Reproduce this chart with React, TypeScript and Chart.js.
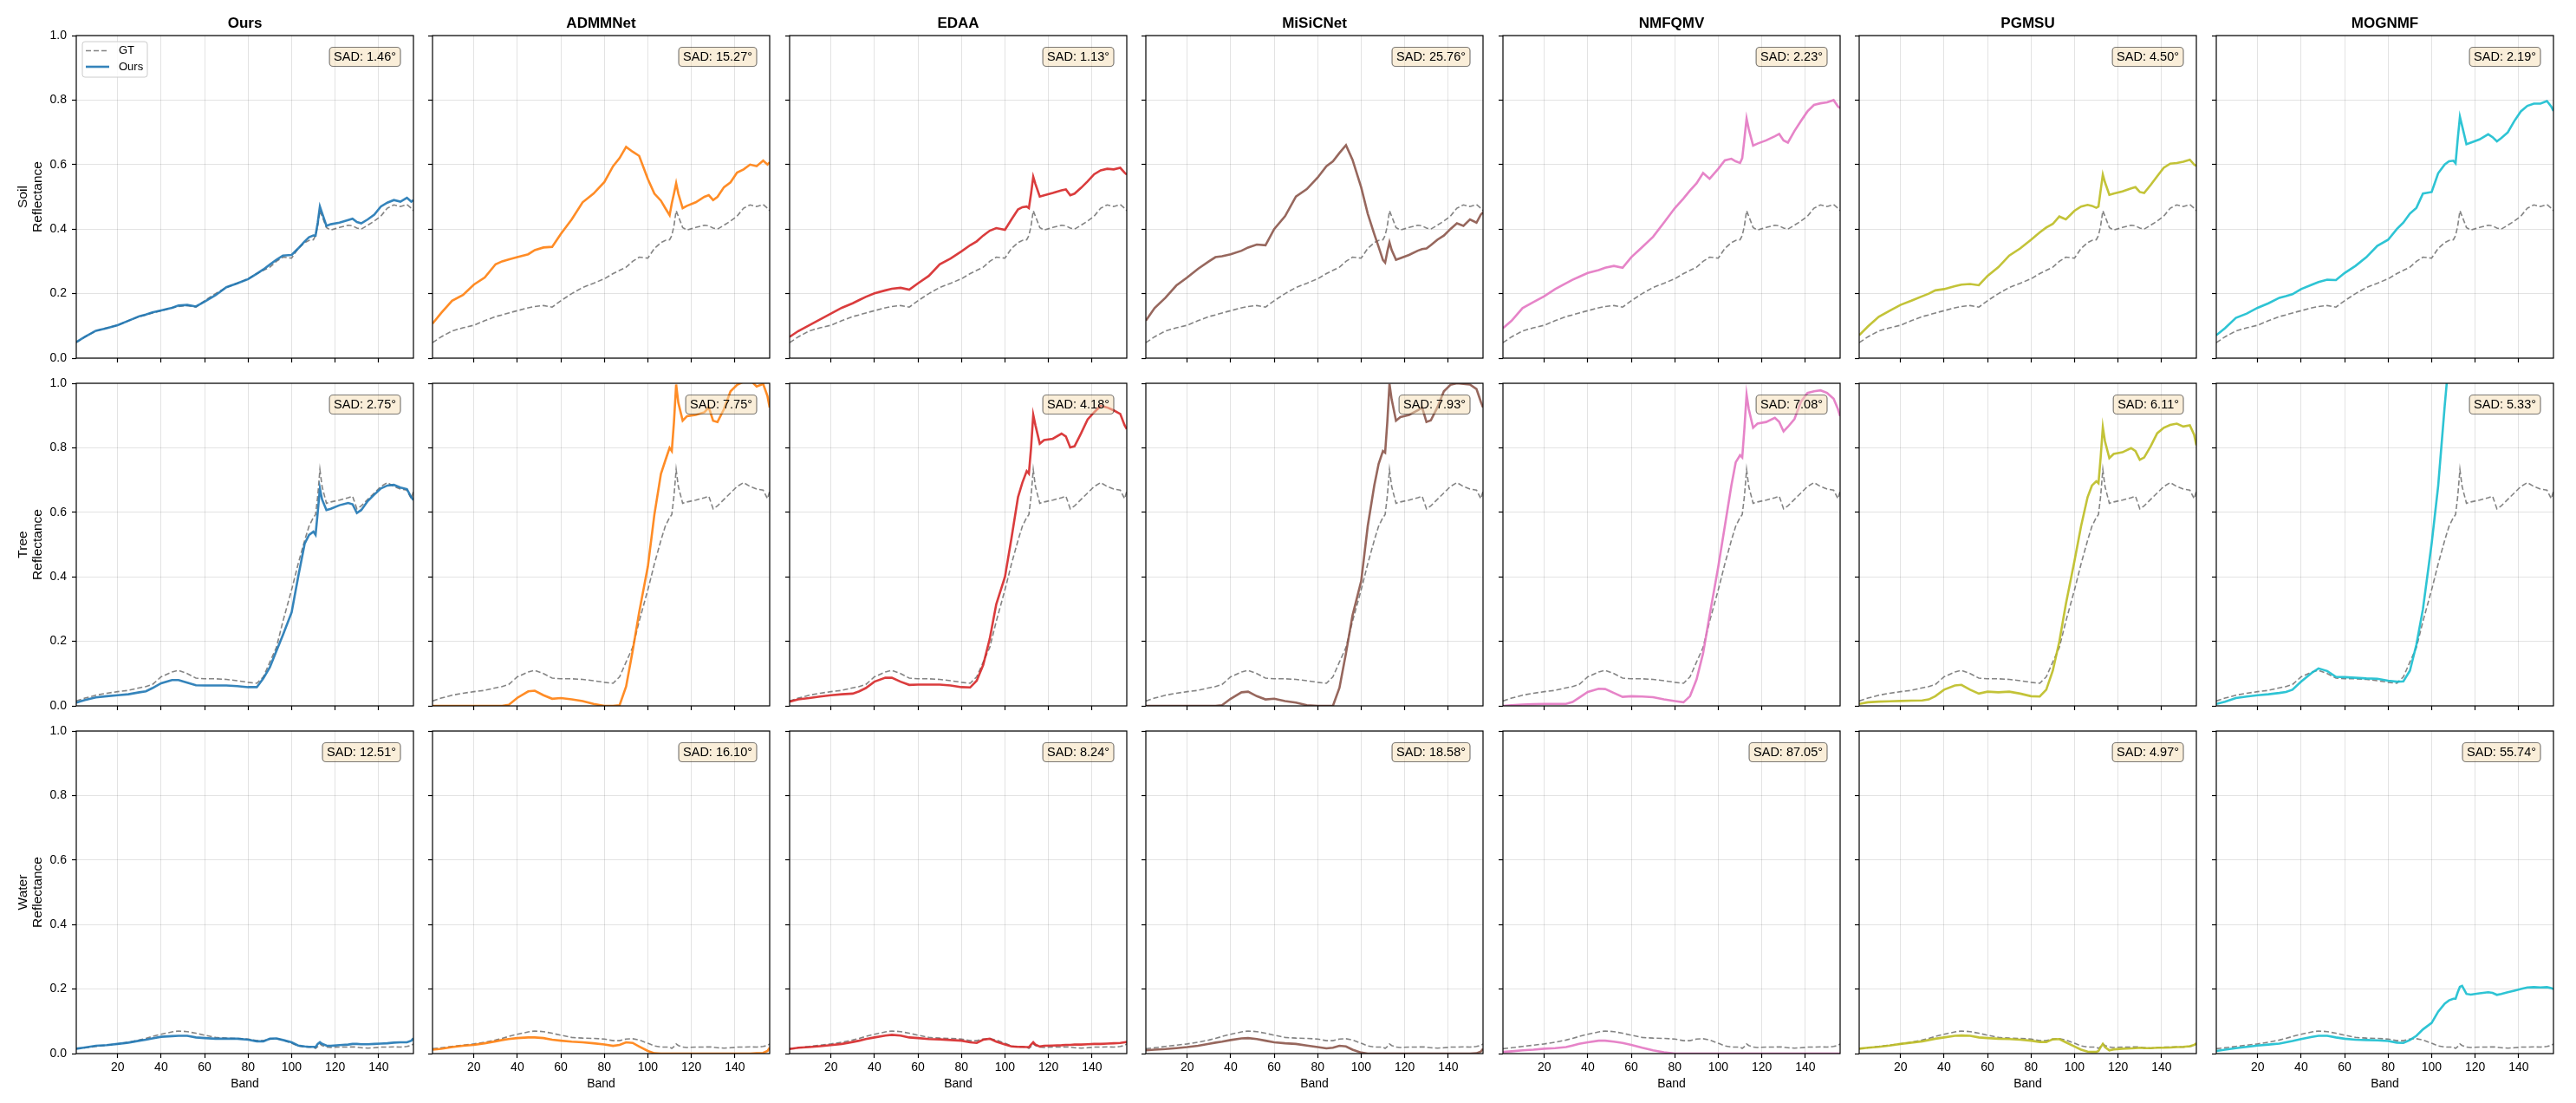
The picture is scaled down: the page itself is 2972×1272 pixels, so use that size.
import React, { useEffect, useRef } from "react";
import { Chart, registerables } from "chart.js";

Chart.register(...registerables);

// ---- data ---------------------------------------------------------------
const BANDS = [
  1, 5, 10, 15, 20, 25, 30, 33, 36, 40,
  45, 48, 52, 56, 60, 65, 70, 75, 80, 84,
  87, 90, 93, 96, 100, 103, 106, 108, 110, 111,
  112, 113, 114, 116, 118, 122, 126, 128, 130, 132,
  135, 138, 141, 144, 147, 150, 153, 155, 156,
];

const METHODS = ["Ours", "ADMMNet", "EDAA", "MiSiCNet", "NMFQMV", "PGMSU", "MOGNMF"];
const ENDMEMBERS = ["Soil", "Tree", "Water"];
const X_TICKS = [20, 40, 60, 80, 100, 120, 140];
const Y_TICKS = [0, 0.2, 0.4, 0.6, 0.8, 1.0];

const SAD_SOIL = ["1.46", "15.27", "1.13", "25.76", "2.23", "4.50", "2.19"];
const SAD_TREE = ["2.75", "7.75", "4.18", "7.93", "7.08", "6.11", "5.33"];
const SAD_WATER = ["12.51", "16.10", "8.24", "18.58", "87.05", "4.97", "55.74"];

// Soil
const GT_SOIL = [
  0.048, 0.066, 0.084, 0.094, 0.102, 0.116, 0.129, 0.134, 0.140, 0.147,
  0.156, 0.160, 0.163, 0.158, 0.178, 0.200, 0.219, 0.232, 0.246, 0.262,
  0.272, 0.282, 0.300, 0.313, 0.310, 0.340, 0.358, 0.365, 0.367, 0.380,
  0.410, 0.457, 0.440, 0.405, 0.397, 0.405, 0.412, 0.410, 0.403, 0.400,
  0.412, 0.425, 0.440, 0.465, 0.475, 0.470, 0.476, 0.465, 0.457,
];
const OURS_SOIL = [
  0.050, 0.066, 0.085, 0.093, 0.102, 0.116, 0.130, 0.135, 0.142, 0.148,
  0.156, 0.163, 0.165, 0.160, 0.175, 0.195, 0.220, 0.232, 0.245, 0.262,
  0.275, 0.290, 0.305, 0.318, 0.320, 0.340, 0.362, 0.375, 0.380, 0.380,
  0.420, 0.470, 0.450, 0.410, 0.415, 0.420, 0.428, 0.432, 0.422, 0.418,
  0.430, 0.445, 0.470, 0.482, 0.490, 0.485, 0.497, 0.485, 0.490,
];
const ADMMNET_SOIL = [
  0.107, 0.140, 0.178, 0.196, 0.228, 0.250, 0.291, 0.300, 0.306, 0.313,
  0.322, 0.335, 0.343, 0.345, 0.385, 0.430, 0.483, 0.510, 0.546, 0.595,
  0.620, 0.655, 0.640, 0.627, 0.555, 0.510, 0.488, 0.465, 0.443, 0.480,
  0.510, 0.542, 0.510, 0.465, 0.472, 0.483, 0.500, 0.505, 0.490, 0.500,
  0.530, 0.545, 0.575, 0.585, 0.600, 0.595, 0.612, 0.600, 0.607,
];
const EDAA_SOIL = [
  0.066, 0.084, 0.102, 0.120, 0.138, 0.156, 0.170, 0.180, 0.190, 0.201,
  0.210, 0.215, 0.218, 0.212, 0.232, 0.255, 0.291, 0.309, 0.331, 0.350,
  0.362, 0.380, 0.395, 0.403, 0.398, 0.430, 0.461, 0.468, 0.470, 0.465,
  0.510, 0.562, 0.540, 0.501, 0.505, 0.512, 0.520, 0.523, 0.505, 0.510,
  0.528, 0.548, 0.570, 0.582, 0.587, 0.585, 0.590, 0.575, 0.569,
];
const MISICNET_SOIL = [
  0.116, 0.155, 0.187, 0.225, 0.250, 0.277, 0.300, 0.313, 0.316, 0.322,
  0.333, 0.343, 0.352, 0.350, 0.400, 0.440, 0.501, 0.524, 0.560, 0.595,
  0.610, 0.636, 0.660, 0.615, 0.529, 0.448, 0.385, 0.345, 0.304, 0.296,
  0.330, 0.359, 0.335, 0.305, 0.310, 0.320, 0.333, 0.338, 0.340, 0.350,
  0.367, 0.380, 0.400, 0.418, 0.410, 0.430, 0.420, 0.445, 0.452,
];
const NMFQMV_SOIL = [
  0.093, 0.116, 0.155, 0.174, 0.192, 0.214, 0.232, 0.243, 0.252, 0.264,
  0.273, 0.280, 0.286, 0.280, 0.313, 0.344, 0.376, 0.420, 0.465, 0.495,
  0.520, 0.542, 0.574, 0.556, 0.587, 0.613, 0.618, 0.610, 0.605, 0.620,
  0.680, 0.743, 0.710, 0.659, 0.665, 0.675, 0.688, 0.695, 0.675, 0.668,
  0.704, 0.735, 0.765, 0.785, 0.790, 0.793, 0.800, 0.780, 0.775,
];
const PGMSU_SOIL = [
  0.071, 0.098, 0.128, 0.147, 0.165, 0.178, 0.192, 0.200, 0.210, 0.214,
  0.223, 0.228, 0.230, 0.226, 0.255, 0.282, 0.318, 0.340, 0.367, 0.390,
  0.405, 0.416, 0.439, 0.430, 0.457, 0.470, 0.475, 0.472, 0.466, 0.470,
  0.520, 0.569, 0.545, 0.506, 0.510, 0.517, 0.526, 0.530, 0.515, 0.512,
  0.537, 0.564, 0.590, 0.603, 0.605, 0.609, 0.615, 0.600, 0.596,
];
const MOGNMF_SOIL = [
  0.071, 0.093, 0.125, 0.138, 0.156, 0.170, 0.187, 0.192, 0.198, 0.214,
  0.228, 0.236, 0.243, 0.242, 0.264, 0.286, 0.313, 0.348, 0.367, 0.400,
  0.420, 0.448, 0.466, 0.510, 0.515, 0.573, 0.600, 0.610, 0.612, 0.604,
  0.680, 0.748, 0.720, 0.663, 0.668, 0.678, 0.694, 0.685, 0.672, 0.682,
  0.700, 0.735, 0.765, 0.782, 0.789, 0.789, 0.797, 0.780, 0.766,
];

// Tree
const GT_TREE = [
  0.015, 0.024, 0.033, 0.039, 0.044, 0.048, 0.056, 0.060, 0.066, 0.090,
  0.105, 0.110, 0.100, 0.086, 0.084, 0.084, 0.082, 0.078, 0.073, 0.070,
  0.090, 0.136, 0.181, 0.262, 0.360, 0.440, 0.513, 0.557, 0.584, 0.593,
  0.650, 0.732, 0.680, 0.628, 0.632, 0.638, 0.645, 0.650, 0.611, 0.620,
  0.640, 0.660, 0.680, 0.692, 0.680, 0.672, 0.669, 0.642, 0.665,
];
const OURS_TREE = [
  0.010, 0.018, 0.026, 0.030, 0.033, 0.036, 0.042, 0.045, 0.055, 0.070,
  0.080, 0.080, 0.072, 0.064, 0.063, 0.063, 0.063, 0.061, 0.058, 0.058,
  0.085, 0.120, 0.170, 0.220, 0.290, 0.400, 0.503, 0.530, 0.540, 0.530,
  0.600, 0.674, 0.640, 0.607, 0.611, 0.622, 0.629, 0.625, 0.598, 0.607,
  0.635, 0.655, 0.674, 0.683, 0.685, 0.677, 0.672, 0.647, 0.638,
];
const ADMMNET_TREE = [
  0, 0, 0, 0, 0, 0, 0, 0, 0.003, 0.025,
  0.045, 0.047, 0.033, 0.022, 0.024, 0.020, 0.015, 0.006, 0, 0,
  0.002, 0.060, 0.170, 0.290, 0.432, 0.593, 0.719, 0.760, 0.800, 0.790,
  0.880, 0.996, 0.940, 0.884, 0.898, 0.902, 0.910, 0.925, 0.884, 0.880,
  0.920, 0.975, 0.995, 1.005, 1.010, 0.990, 0.998, 0.960, 0.925,
];
const EDAA_TREE = [
  0.013, 0.020, 0.024, 0.029, 0.033, 0.036, 0.038, 0.045, 0.055, 0.075,
  0.087, 0.087, 0.075, 0.065, 0.066, 0.066, 0.066, 0.063, 0.058, 0.057,
  0.078, 0.127, 0.208, 0.315, 0.400, 0.520, 0.647, 0.692, 0.728, 0.720,
  0.800, 0.902, 0.870, 0.813, 0.824, 0.828, 0.844, 0.835, 0.801, 0.805,
  0.845, 0.888, 0.910, 0.930, 0.925, 0.916, 0.905, 0.870, 0.858,
];
const MISICNET_TREE = [
  0, 0, 0, 0, 0, 0, 0, 0, 0.002, 0.022,
  0.042, 0.044, 0.030, 0.020, 0.022, 0.015, 0.010, 0.002, 0, 0,
  0, 0.056, 0.163, 0.280, 0.387, 0.557, 0.683, 0.750, 0.790, 0.785,
  0.880, 0.998, 0.950, 0.884, 0.895, 0.902, 0.916, 0.925, 0.880, 0.885,
  0.925, 0.975, 0.995, 1.000, 0.998, 0.996, 0.982, 0.943, 0.925,
];
const NMFQMV_TREE = [
  0, 0.002, 0.004, 0.005, 0.006, 0.006, 0.006, 0.012, 0.025, 0.043,
  0.053, 0.052, 0.040, 0.028, 0.030, 0.029, 0.027, 0.020, 0.015, 0.011,
  0.030, 0.082, 0.163, 0.280, 0.432, 0.557, 0.683, 0.755, 0.777, 0.770,
  0.860, 0.965, 0.920, 0.862, 0.875, 0.880, 0.893, 0.880, 0.851, 0.865,
  0.889, 0.943, 0.970, 0.975, 0.978, 0.970, 0.952, 0.920, 0.898,
];
const PGMSU_TREE = [
  0.006, 0.011, 0.013, 0.014, 0.015, 0.016, 0.017, 0.020, 0.030, 0.050,
  0.063, 0.065, 0.050, 0.038, 0.044, 0.042, 0.044, 0.038, 0.030, 0.029,
  0.050, 0.109, 0.199, 0.315, 0.450, 0.557, 0.647, 0.683, 0.696, 0.690,
  0.770, 0.864, 0.820, 0.768, 0.781, 0.786, 0.799, 0.790, 0.763, 0.770,
  0.805, 0.845, 0.862, 0.871, 0.875, 0.866, 0.870, 0.840, 0.808,
];
const MOGNMF_TREE = [
  0.006, 0.013, 0.024, 0.029, 0.033, 0.036, 0.040, 0.043, 0.050, 0.075,
  0.103, 0.116, 0.108, 0.090, 0.089, 0.087, 0.085, 0.084, 0.078, 0.075,
  0.076, 0.109, 0.190, 0.300, 0.503, 0.682, 0.930, 1.080, 1.200, 1.250,
  1.350, 1.450, 1.420, 1.380, 1.400, 1.420, 1.440, 1.450, 1.420, 1.430,
  1.460, 1.500, 1.530, 1.540, 1.550, 1.540, 1.550, 1.500, 1.480,
];

// Water
const GT_WATER = [
  0.015, 0.018, 0.022, 0.026, 0.030, 0.035, 0.042, 0.047, 0.053, 0.060,
  0.067, 0.070, 0.068, 0.063, 0.057, 0.050, 0.048, 0.047, 0.045, 0.040,
  0.040, 0.045, 0.046, 0.042, 0.032, 0.024, 0.020, 0.020, 0.020, 0.016,
  0.022, 0.030, 0.025, 0.020, 0.019, 0.020, 0.020, 0.021, 0.020, 0.018,
  0.017, 0.018, 0.020, 0.020, 0.021, 0.020, 0.022, 0.025, 0.030,
];
const OURS_WATER = [
  0.015, 0.019, 0.024, 0.026, 0.030, 0.034, 0.040, 0.043, 0.047, 0.052,
  0.054, 0.055, 0.055, 0.050, 0.048, 0.046, 0.046, 0.046, 0.043, 0.038,
  0.038, 0.046, 0.047, 0.042, 0.035, 0.025, 0.022, 0.021, 0.021, 0.020,
  0.030, 0.035, 0.030, 0.025, 0.024, 0.026, 0.028, 0.030, 0.030, 0.029,
  0.029, 0.030, 0.031, 0.032, 0.034, 0.035, 0.035, 0.040, 0.047,
];
const ADMMNET_WATER = [
  0.012, 0.015, 0.020, 0.024, 0.027, 0.032, 0.038, 0.042, 0.045, 0.048,
  0.050, 0.050, 0.048, 0.043, 0.040, 0.037, 0.035, 0.032, 0.028, 0.024,
  0.027, 0.035, 0.033, 0.022, 0.008, 0.001, 0, 0, 0, 0,
  0, 0, 0, 0, 0, 0, 0, 0, 0, 0,
  0, 0, 0, 0, 0, 0.001, 0.002, 0.008, 0.018,
];
const EDAA_WATER = [
  0.014, 0.018, 0.020, 0.023, 0.026, 0.030, 0.036, 0.040, 0.045, 0.050,
  0.056, 0.058, 0.056, 0.050, 0.048, 0.045, 0.044, 0.042, 0.040, 0.035,
  0.033, 0.043, 0.046, 0.037, 0.028, 0.022, 0.021, 0.021, 0.020, 0.020,
  0.028, 0.035, 0.028, 0.022, 0.024, 0.025, 0.026, 0.027, 0.027, 0.028,
  0.028, 0.029, 0.030, 0.030, 0.031, 0.032, 0.033, 0.035, 0.036,
];
const MISICNET_WATER = [
  0.010, 0.012, 0.014, 0.017, 0.020, 0.024, 0.030, 0.034, 0.037, 0.042,
  0.047, 0.048, 0.045, 0.040, 0.035, 0.032, 0.030, 0.025, 0.020, 0.016,
  0.018, 0.024, 0.022, 0.012, 0.003, 0, 0, 0, 0, 0,
  0, 0, 0, 0, 0, 0, 0, 0, 0, 0,
  0, 0, 0, 0, 0, 0, 0.001, 0.006, 0.015,
];
const NMFQMV_WATER = [
  0.005, 0.007, 0.010, 0.012, 0.015, 0.017, 0.020, 0.025, 0.030, 0.035,
  0.040, 0.040, 0.037, 0.033, 0.027, 0.018, 0.010, 0.004, 0, 0,
  0, 0, 0, 0, 0, 0, 0, 0, 0, 0,
  0, 0, 0, 0, 0, 0, 0, 0, 0, 0,
  0, 0, 0, 0, 0, 0, 0, 0, 0,
];
const PGMSU_WATER = [
  0.015, 0.018, 0.021, 0.025, 0.030, 0.034, 0.038, 0.042, 0.046, 0.050,
  0.055, 0.056, 0.055, 0.050, 0.048, 0.046, 0.045, 0.043, 0.040, 0.036,
  0.036, 0.044, 0.045, 0.035, 0.022, 0.012, 0.006, 0.005, 0.005, 0.008,
  0.020, 0.030, 0.020, 0.010, 0.013, 0.015, 0.016, 0.017, 0.018, 0.017,
  0.017, 0.018, 0.018, 0.019, 0.020, 0.021, 0.023, 0.027, 0.032,
];
const MOGNMF_WATER = [
  0.008, 0.012, 0.017, 0.021, 0.025, 0.028, 0.031, 0.035, 0.039, 0.045,
  0.052, 0.055, 0.055, 0.050, 0.046, 0.043, 0.042, 0.041, 0.039, 0.034,
  0.033, 0.042, 0.055, 0.075, 0.095, 0.130, 0.155, 0.165, 0.170, 0.170,
  0.190, 0.207, 0.210, 0.185, 0.183, 0.187, 0.190, 0.188, 0.182, 0.185,
  0.190, 0.195, 0.200, 0.205, 0.206, 0.205, 0.206, 0.203, 0.200,
];

const GT_BY_ROW = [GT_SOIL, GT_TREE, GT_WATER];
const EST_BY_ROW = [
  [OURS_SOIL, ADMMNET_SOIL, EDAA_SOIL, MISICNET_SOIL, NMFQMV_SOIL, PGMSU_SOIL, MOGNMF_SOIL],
  [OURS_TREE, ADMMNET_TREE, EDAA_TREE, MISICNET_TREE, NMFQMV_TREE, PGMSU_TREE, MOGNMF_TREE],
  [OURS_WATER, ADMMNET_WATER, EDAA_WATER, MISICNET_WATER, NMFQMV_WATER, PGMSU_WATER, MOGNMF_WATER],
];
const SAD_BY_ROW = [SAD_SOIL, SAD_TREE, SAD_WATER];

// ---- styling & layout ---------------------------------------------------
const COLORS = [
  "rgba(31,119,180,0.9)",
  "rgba(255,127,14,0.9)",
  "rgba(214,39,40,0.9)",
  "rgba(140,86,75,0.9)",
  "rgba(227,119,194,0.9)",
  "rgba(188,189,34,0.9)",
  "rgba(23,190,207,0.9)",
];
const GT_COLOR = "rgba(110,110,110,0.85)";
const FONT = '"Liberation Sans", Arial, Helvetica, sans-serif';

const PANEL_LEFT = [88, 499, 911, 1322, 1734, 2145, 2557];
const PANEL_TOP = [41, 442, 843];
const PANEL_W = 389;
const PANEL_H = 372;
const PAD_L = 88;
const PAD_T = 41;
const PAD_R = 12;
const PAD_B = 57;

function toPoints(values: number[]) {
  return BANDS.map((b, i) => ({ x: b, y: values[i] }));
}

function makeDecor(row: number, col: number) {
  return {
    id: "panelDecor",
    afterDraw(chart: any) {
      const { ctx, chartArea: a } = chart;
      ctx.save();

      // axes frame
      ctx.strokeStyle = "#000";
      ctx.lineWidth = 1.2;
      ctx.strokeRect(a.left, a.top, a.right - a.left, a.bottom - a.top);

      // SAD annotation box
      ctx.font = `14.5px ${FONT}`;
      const text = `SAD: ${SAD_BY_ROW[row][col]}°`;
      const tw = ctx.measureText(text).width;
      const bw = tw + 10;
      const bh = 22;
      const bx = a.right - 15 - bw;
      const by = a.top + 13.5;
      ctx.beginPath();
      ctx.roundRect(bx, by, bw, bh, 4);
      ctx.fillStyle = "rgba(245,222,179,0.5)";
      ctx.fill();
      ctx.strokeStyle = "rgba(0,0,0,0.5)";
      ctx.lineWidth = 1.2;
      ctx.stroke();
      ctx.fillStyle = "#000";
      ctx.textAlign = "right";
      ctx.textBaseline = "middle";
      ctx.fillText(text, bx + bw - 5, by + bh / 2 + 0.5);

      const cx = (a.left + a.right) / 2;
      const cy = (a.top + a.bottom) / 2;

      // column title
      if (row === 0) {
        ctx.font = `bold 17px ${FONT}`;
        ctx.textAlign = "center";
        ctx.textBaseline = "alphabetic";
        ctx.fillText(METHODS[col], cx, a.top - 9);
      }

      // row label
      if (col === 0) {
        ctx.font = `15.5px ${FONT}`;
        ctx.textAlign = "center";
        ctx.textBaseline = "middle";
        const lines = [ENDMEMBERS[row], "Reflectance"];
        const xs = [a.left - 61, a.left - 44.5];
        lines.forEach((ln, i) => {
          ctx.save();
          ctx.translate(xs[i], cy);
          ctx.rotate(-Math.PI / 2);
          ctx.fillText(ln, 0, 0);
          ctx.restore();
        });
      }

      // x-axis label
      if (row === 2) {
        ctx.font = `14px ${FONT}`;
        ctx.textAlign = "center";
        ctx.textBaseline = "middle";
        ctx.fillText("Band", cx, a.bottom + 35);
      }

      // legend
      if (row === 0 && col === 0) {
        const lx = a.left + 7;
        const ly = a.top + 7;
        ctx.beginPath();
        ctx.roundRect(lx, ly, 75, 41, 3);
        ctx.fillStyle = "rgba(255,255,255,0.8)";
        ctx.fill();
        ctx.strokeStyle = "#cccccc";
        ctx.lineWidth = 1;
        ctx.stroke();

        ctx.lineWidth = 1.6;
        ctx.strokeStyle = GT_COLOR;
        ctx.setLineDash([6, 3]);
        ctx.beginPath();
        ctx.moveTo(lx + 4, ly + 10.5);
        ctx.lineTo(lx + 31, ly + 10.5);
        ctx.stroke();
        ctx.setLineDash([]);
        ctx.lineWidth = 2.6;
        ctx.strokeStyle = COLORS[0];
        ctx.beginPath();
        ctx.moveTo(lx + 4, ly + 29);
        ctx.lineTo(lx + 31, ly + 29);
        ctx.stroke();

        ctx.fillStyle = "#000";
        ctx.font = `13px ${FONT}`;
        ctx.textAlign = "left";
        ctx.textBaseline = "middle";
        ctx.fillText("GT", lx + 42, ly + 10.5);
        ctx.fillText(METHODS[0], lx + 42, ly + 29.5);
      }

      ctx.restore();
    },
  };
}

function Panel({ row, col }: { row: number; col: number }) {
  const ref = useRef<HTMLCanvasElement>(null);

  useEffect(() => {
    const tickFont = { family: FONT, size: 14 };
    const gridColor = "rgba(0,0,0,0.11)";
    const chart = new Chart(ref.current as HTMLCanvasElement, {
      type: "line",
      data: {
        datasets: [
          {
            label: METHODS[col],
            data: toPoints(EST_BY_ROW[row][col]),
            borderColor: COLORS[col],
            borderWidth: 2.6,
            pointRadius: 0,
            tension: 0,
            clip: 0,
            order: 0,
          } as any,
          {
            label: "GT",
            data: toPoints(GT_BY_ROW[row]),
            borderColor: GT_COLOR,
            borderWidth: 1.6,
            borderDash: [6, 3],
            pointRadius: 0,
            tension: 0,
            clip: 0,
            order: 1,
          } as any,
        ],
      },
      options: {
        responsive: false,
        animation: false,
        events: [],
        layout: { padding: { left: 0, top: PAD_T, right: PAD_R, bottom: 0 } },
        plugins: {
          legend: { display: false },
          tooltip: { enabled: false },
          title: { display: false },
        },
        scales: {
          x: {
            type: "linear",
            min: 1,
            max: 156,
            afterBuildTicks: (s: any) => {
              s.ticks = X_TICKS.map((v) => ({ value: v }));
            },
            afterFit: (s: any) => {
              s.height = PAD_B;
            },
            border: { display: false },
            grid: {
              color: gridColor,
              lineWidth: 1,
              tickLength: 5,
              tickColor: "#000",
              tickWidth: 1.2,
            },
            ticks: {
              autoSkip: false,
              maxRotation: 0,
              padding: 3,
              color: "#000",
              font: tickFont,
              callback: (v: any) => (row === 2 ? String(v) : ""),
            },
          },
          y: {
            type: "linear",
            min: 0,
            max: 1,
            afterBuildTicks: (s: any) => {
              s.ticks = Y_TICKS.map((v) => ({ value: v }));
            },
            afterFit: (s: any) => {
              s.width = PAD_L;
            },
            border: { display: false },
            grid: {
              color: gridColor,
              lineWidth: 1,
              tickLength: 5,
              tickColor: "#000",
              tickWidth: 1.2,
            },
            ticks: {
              autoSkip: false,
              padding: 6,
              color: "#000",
              font: tickFont,
              callback: (v: any) => (col === 0 ? Number(v).toFixed(1) : ""),
            },
          },
        },
      } as any,
      plugins: [makeDecor(row, col)],
    });
    return () => chart.destroy();
  }, [row, col]);

  const w = PAD_L + PANEL_W + PAD_R;
  const h = PAD_T + PANEL_H + PAD_B;
  return (
    <canvas
      ref={ref}
      width={w}
      height={h}
      style={{
        position: "absolute",
        left: PANEL_LEFT[col] - PAD_L,
        top: PANEL_TOP[row] - PAD_T,
        width: w,
        height: h,
      }}
    />
  );
}

export default function App() {
  const panels: React.ReactElement[] = [];
  for (let r = 0; r < ENDMEMBERS.length; r++) {
    for (let c = 0; c < METHODS.length; c++) {
      panels.push(<Panel key={`${r}-${c}`} row={r} col={c} />);
    }
  }
  return (
    <div
      style={{
        position: "absolute",
        left: 0,
        top: 0,
        width: 2972,
        height: 1272,
        background: "#fff",
        overflow: "hidden",
      }}
    >
      {panels}
    </div>
  );
}
